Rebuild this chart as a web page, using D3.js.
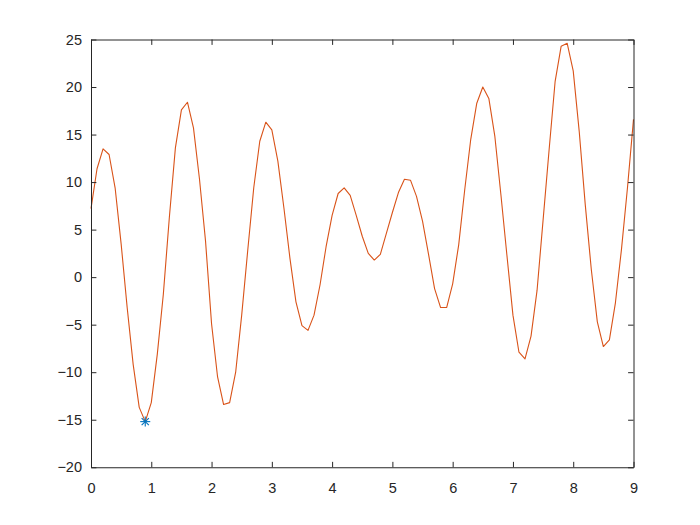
<!DOCTYPE html>
<html>
<head>
<meta charset="utf-8">
<script src="https://cdn.jsdelivr.net/npm/d3@7"></script>
<style>
  html, body { margin: 0; padding: 0; background: #fff; }
  svg { display: block; }
  text { font-family: "Liberation Sans", Arial, Helvetica, sans-serif; }
</style>
</head>
<body>
<svg id="chart" width="700" height="525"></svg>
<script>
// ---- data ----
const xValues = d3.range(91).map(i => +(i / 10).toFixed(1));
const yValues = [
  7.2, 11.4, 13.5, 12.9, 9.4, 3.5, -3.2, -9.2, -13.7, -15.2,
  -13.2, -8.1, -1.8, 6.3, 13.6, 17.6, 18.4, 15.7, 10.3, 3.8,
  -4.9, -10.5, -13.4, -13.2, -10.0, -4.0, 2.8, 9.4, 14.3, 16.3,
  15.5, 12.2, 7.3, 2.0, -2.6, -5.1, -5.6, -4.0, -0.8, 3.2,
  6.5, 8.8, 9.4, 8.6, 6.5, 4.3, 2.5, 1.8, 2.4, 4.6,
  6.8, 8.9, 10.3, 10.2, 8.5, 5.9, 2.4, -1.2, -3.2, -3.2,
  -0.7, 3.4, 9.2, 14.5, 18.3, 20.0, 18.8, 14.8, 8.7, 2.3,
  -4.0, -7.9, -8.6, -6.2, -1.4, 6.0, 13.4, 20.6, 24.3, 24.6,
  21.7, 15.3, 7.6, 0.8, -4.7, -7.3, -6.6, -2.7, 2.9, 9.4,
  16.6
];
const markerX = [0.9];
const markerY = [-15.2];
const xTicks = [0, 1, 2, 3, 4, 5, 6, 7, 8, 9];
const yTicks = [-20, -15, -10, -5, 0, 5, 10, 15, 20, 25];

// ---- layout ----
const plotLeft = 91, plotRight = 633.5, plotTop = 39.5, plotBottom = 467.25;
const axisColor = "#262626";
const tickLen = 5.4;

const svg = d3.select("#chart");
const x = d3.scaleLinear().domain([0, 9]).range([plotLeft, plotRight]);
const y = d3.scaleLinear().domain([-20, 25]).range([plotBottom, plotTop]);

// line
const line = d3.line().x((d, i) => x(xValues[i])).y(d => y(d));
svg.append("path")
  .datum(yValues)
  .attr("fill", "none")
  .attr("stroke", "#D95319")
  .attr("stroke-width", 1.1)
  .attr("stroke-linejoin", "round")
  .attr("d", line);

// marker (asterisk)
const mg = svg.append("g").attr("stroke", "#0072BD").attr("stroke-width", 1.1);
markerX.forEach((mx, i) => {
  const cx = x(mx), cy = y(markerY[i]);
  const r = 5, rd = 3.6;
  mg.append("line").attr("x1", cx - r).attr("x2", cx + r).attr("y1", cy).attr("y2", cy);
  mg.append("line").attr("x1", cx).attr("x2", cx).attr("y1", cy - r).attr("y2", cy + r);
  mg.append("line").attr("x1", cx - rd).attr("x2", cx + rd).attr("y1", cy - rd).attr("y2", cy + rd);
  mg.append("line").attr("x1", cx - rd).attr("x2", cx + rd).attr("y1", cy + rd).attr("y2", cy - rd);
});

// axes (box with inward ticks)
const xAxisB = d3.axisBottom(x).tickValues(xTicks).tickSizeInner(-tickLen).tickSizeOuter(0).tickPadding(15).tickFormat(d3.format("d"));
const xAxisT = d3.axisTop(x).tickValues(xTicks).tickSizeInner(-tickLen).tickSizeOuter(0).tickFormat("");
const yAxisL = d3.axisLeft(y).tickValues(yTicks).tickSizeInner(-tickLen).tickSizeOuter(0).tickPadding(9).tickFormat(d3.format("d"));
const yAxisR = d3.axisRight(y).tickValues(yTicks).tickSizeInner(-tickLen).tickSizeOuter(0).tickFormat("");

function style(g) {
  g.selectAll("path.domain").attr("stroke", axisColor).attr("stroke-width", 1);
  g.selectAll(".tick line").attr("stroke", axisColor).attr("stroke-width", 1);
  g.selectAll(".tick text").attr("fill", axisColor).attr("font-size", 14.5)
    .attr("font-family", "'Liberation Sans', Arial, Helvetica, sans-serif");
}
svg.append("g").attr("transform", `translate(0,${plotBottom})`).call(xAxisB).call(style);
svg.append("g").attr("transform", `translate(0,${plotTop})`).call(xAxisT).call(style);
svg.append("g").attr("transform", `translate(${plotLeft},0)`).call(yAxisL).call(style);
svg.append("g").attr("transform", `translate(${plotRight},0)`).call(yAxisR).call(style);
</script>
</body>
</html>
